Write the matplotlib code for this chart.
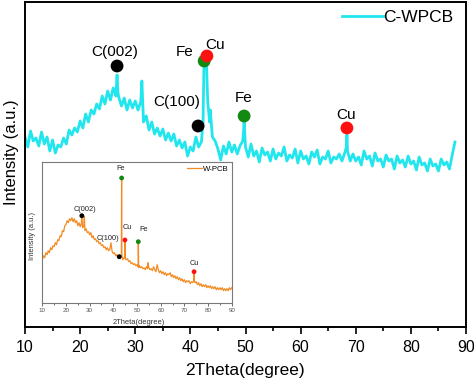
import numpy as np
import matplotlib
matplotlib.use("Agg")
import matplotlib.pyplot as plt
from matplotlib.ticker import MultipleLocator

plt.rcParams['font.family'] = ['Liberation Sans', 'DejaVu Sans']

# ---- main pattern: C-WPCB (a.u.) ----
main_theta = np.arange(10, 88.01, 0.5)
main_base = [
    190, 180, 196, 186, 189, 181, 195, 183, 190, 176,
    187, 174, 182, 180, 189, 183, 197, 192, 199, 195,
    206, 199, 213, 205, 217, 213, 223, 218, 231, 223,
    236, 227, 239, 231, 230, 221, 229, 217, 227, 219,
    226, 217, 225, 205, 211, 197, 205, 193, 199, 191,
    198, 187, 194, 186, 193, 181, 187, 179, 185, 171,
    180, 176, 190, 180, 185, 262, 250, 205, 190, 186,
    178, 167, 181, 173, 185, 175, 182, 173, 181, 186,
    180, 170, 183, 171, 176, 165, 179, 172, 175, 166,
    178, 168, 174, 171, 180, 166, 172, 169, 178, 164,
    176, 168, 171, 163, 175, 170, 177, 163, 170, 168,
    176, 164, 170, 168, 173, 166, 174, 176, 166, 173,
    166, 170, 162, 176, 168, 171, 161, 174, 166, 168,
    160, 172, 166, 168, 158, 171, 164, 167, 160, 171,
    163, 166, 157, 170, 162, 164, 156, 168, 161, 163,
    156, 168, 162, 165, 158, 172, 185,
]
main_peak_theta = [26.55, 26.7, 26.85, 31.1, 31.2, 42.3, 42.45, 42.7, 42.95, 43.15, 43.6, 49.6, 49.75, 68.3, 68.4]
main_peak_int = [238, 252, 235, 236, 246, 205, 258, 266, 262, 225, 217, 192, 205, 180, 192]

# phase markers on the main pattern
main_mark_theta = [26.7, 41.4, 42.5, 43.0, 49.75, 68.4]
main_mark_int = [261, 201, 266, 271, 211, 199]
main_mark_color = ['black', 'black', '#128a12', '#ff1010', '#128a12', '#ff1010']
main_labels = ['C(002)', 'Fe', 'Cu', 'C(100)', 'Fe', 'Cu']
main_label_theta = [26.3, 39.0, 44.5, 37.6, 49.6, 68.3]
main_label_int = [275, 275, 282, 225, 229, 212]

# ---- inset pattern: W-PCB (a.u.) ----
ins_theta = np.arange(10, 90.01, 0.5)
ins_base = [
    43, 47, 45, 50, 48, 52, 50, 55, 53, 57,
    56, 60, 58, 63, 62, 67, 66, 72, 71, 77,
    78, 82, 80, 84, 82, 85, 81, 84, 80, 82,
    77, 80, 76, 79, 75, 76, 72, 74, 70, 71,
    68, 70, 65, 67, 63, 64, 61, 62, 59, 60,
    57, 58, 55, 56, 53, 55, 52, 53, 60, 51,
    49, 50, 47, 48, 45, 46, 44, 124.5, 43, 45,
    44, 43, 44, 41, 42, 39, 40, 38, 39, 37,
    38, 36, 37, 35, 36, 34, 35, 33, 36, 34,
    35, 33, 34, 32, 36, 33, 31, 38, 33, 30,
    32, 29, 31, 28, 30, 27, 29, 28, 30, 26,
    28, 25, 27, 24, 26, 23, 25, 22, 24, 21,
    23, 20, 22, 21, 22, 19, 21, 20, 22, 20,
    21, 18, 20, 17, 19, 16, 18, 16, 18, 15,
    17, 15, 17, 14, 16, 14, 16, 13, 15, 13,
    15, 13, 15, 12, 14, 12, 14, 12, 15, 13,
    15,
]
ins_peak_theta = [26.65, 27.75, 43.4, 43.6, 44.8, 44.9, 45.05, 50.4, 50.55, 50.7, 54.6, 74.0, 74.1, 74.25]
ins_peak_int = [87, 86, 48, 48, 45, 62.7, 44, 36, 61, 35, 40, 22, 31, 21]

ins_mark_theta = [26.7, 42.5, 43.5, 44.9, 50.55, 74.1]
ins_mark_int = [87, 46, 124.7, 62.7, 61, 31]
ins_mark_color = ['black', 'black', '#128a12', '#ff1010', '#128a12', '#ff1010']
ins_labels = ['C(002)', 'C(100)', 'Fe', 'Cu', 'Fe', 'Cu']
ins_label_theta = [28.0, 37.9, 43.1, 46.0, 52.6, 74.1]
ins_label_int = [92.7, 64.4, 133.7, 74.7, 72.7, 39.6]


def merge(theta, base, pt, pi):
    x = np.concatenate([theta, pt])
    y = np.concatenate([np.array(base, float), np.array(pi, float)])
    order = np.argsort(x, kind='stable')
    return x[order], y[order]


W, H = 474, 382
fig = plt.figure(figsize=(W / 100, H / 100), dpi=100)

# main axes
ax = fig.add_axes([25 / W, 1 - 327 / H, 441 / W, 325 / H])
x, y = merge(main_theta, main_base, main_peak_theta, main_peak_int)
ax.plot(x, y, color='#22e6ee', lw=2.0, label='C-WPCB')
ax.scatter(main_mark_theta, main_mark_int, s=85, c=main_mark_color, zorder=5, linewidths=0)
for t, tx, ty in zip(main_labels, main_label_theta, main_label_int):
    ax.text(tx, ty, t, fontsize=11, ha='center', va='center')
ax.set_xlim(10, 90)
ax.set_ylim(0, 325)
ax.set_yticks([])
ax.xaxis.set_major_locator(MultipleLocator(10))
ax.xaxis.set_minor_locator(MultipleLocator(5))
ax.tick_params(axis='x', which='major', direction='out', length=5, width=1.2, labelsize=11.5, pad=4)
ax.tick_params(axis='x', which='minor', direction='out', length=3, width=1.2)
for s in ax.spines.values():
    s.set_linewidth(1.4)
ax.legend(loc='upper right', bbox_to_anchor=(0.972, 0.975), frameon=False, fontsize=12.5,
          handlelength=2.4, handletextpad=0.0, borderpad=0, borderaxespad=0)
fig.text(245 / W, 1 - 371 / H, '2Theta(degree)', fontsize=12.5, ha='center', va='center')
fig.text(12 / W, 1 - 152 / H, 'Intensity (a.u.)', fontsize=12, ha='center', va='center', rotation=90)

# inset axes
ia = fig.add_axes([42.3 / W, 1 - 302.7 / H, 189.4 / W, 140.7 / H])
ia.set_facecolor('white')
x2, y2 = merge(ins_theta, ins_base, ins_peak_theta, ins_peak_int)
ia.plot(x2, y2, color='#f38b22', lw=0.9, label='W-PCB')
ia.scatter(ins_mark_theta, ins_mark_int, s=12, c=ins_mark_color, zorder=5, linewidths=0)
for t, tx, ty in zip(ins_labels, ins_label_theta, ins_label_int):
    ia.text(tx, ty, t, fontsize=5.3, ha='center', va='center', color='#222222')
ia.set_xlim(10, 90)
ia.set_ylim(0, 140.7)
ia.set_yticks([])
ia.xaxis.set_major_locator(MultipleLocator(10))
ia.xaxis.set_minor_locator(MultipleLocator(5))
ia.tick_params(axis='x', which='major', direction='out', length=2, width=0.6, labelsize=4.5,
               pad=1.5, colors='#555555')
ia.tick_params(axis='x', which='minor', direction='out', length=1.2, width=0.6, colors='#555555')
for s in ia.spines.values():
    s.set_linewidth(0.8)
    s.set_edgecolor('#7a7a7a')
ia.legend(loc='upper right', bbox_to_anchor=(0.985, 0.975), frameon=False, fontsize=5.6,
          handlelength=1.9, handletextpad=0.2, borderpad=0, borderaxespad=0)
fig.text(139 / W, 1 - 322 / H, '2Theta(degree)', fontsize=5.4, ha='center', va='center', color='#333333')
fig.text(33 / W, 1 - 236 / H, 'Intensity (a.u.)', fontsize=5.4, ha='center', va='center',
         rotation=90, color='#333333')

fig.savefig('out.png', dpi=100)
